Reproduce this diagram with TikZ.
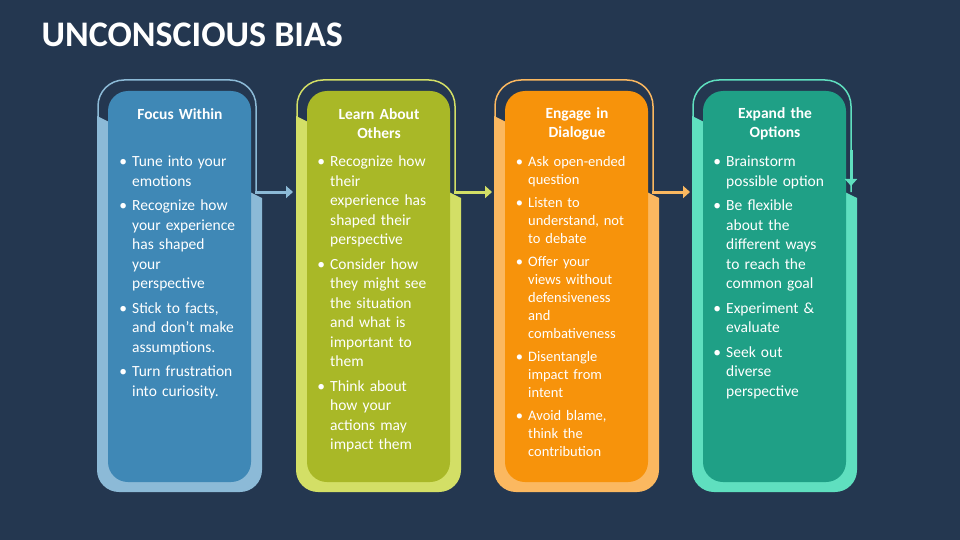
\documentclass[tikz,border=0pt]{standalone}
\usepackage{fontspec}
\setmainfont{Carlito}
\usepackage{enumitem}
\usepackage{tikz}
\usetikzlibrary{arrows.meta}
\definecolor{bg}{HTML}{243750}
\definecolor{blueD}{HTML}{3F88B6}\definecolor{blueL}{HTML}{8CBAD7}
\definecolor{greenD}{HTML}{A9B827}\definecolor{greenL}{HTML}{D3DF66}
\definecolor{orangeD}{HTML}{F7930B}\definecolor{orangeL}{HTML}{FBB860}
\definecolor{tealD}{HTML}{1FA086}\definecolor{tealL}{HTML}{5FDFBF}
\newcommand{\colbody}[1]{%
  \begin{itemize}[leftmargin=14pt,label=\textbullet,itemsep=5pt,parsep=0pt,topsep=0pt,partopsep=0pt]#1\end{itemize}}
\begin{document}
\begin{tikzpicture}[
        x = 1pt, y = -1pt, % pixel grid
        title/.style = {text = white, font = \bfseries\fontsize{15.5}{19}\selectfont, align = center, text width = 130pt},
        body/.style = {text = white, font = \fontsize{15.5}{19.5}\selectfont, text width = 120pt, anchor = north west, inner sep = 0pt},
    ]
    \fill[bg] (0,0) rectangle (960,540);
    \node[anchor = west, text = white, font = \bfseries\fontsize{36}{40}\selectfont] (head) at (38,35) {UNCONSCIOUS BIAS};

    % Draw the columns
    \foreach \x/\dk/\lt in {
        97/blueD/blueL,
        296/greenD/greenL,
        494/orangeD/orangeL,
        692/tealD/tealL} {
        \fill[\lt] (\x,116) -- (\x+165,198) {[rounded corners = 22pt] -- (\x+165,492) -- (\x,492)} -- cycle;
        \draw[\lt, line width = 1.5pt, rounded corners = 26pt] (\x+1,120) -- (\x+1,80) -- (\x+159,80) -- (\x+159,192);
        \fill[\dk, rounded corners = 20pt] (\x+11,91) rectangle (\x+154,482);
    }
    \node[title] (t1) at (180,114) {Focus Within};
    \node[title] (t2) at (379,124) {Learn About\\Others};
    \node[title] (t3) at (577,124) {Engage in\\Dialogue};
    \node[title] (t4) at (775,124) {Expand the\\Options};

    % Draw the connectors
    \foreach \x/\lt in {97/blueL, 296/greenL, 494/orangeL} {
        \draw[\lt, line width = 3pt, -{Triangle[width=12pt,length=7pt]}] (\x+158,192) -- (\x+196,192);
    }
    \draw[tealL, line width = 3pt, -{Triangle[width=12pt,length=7pt]}] (851,150) -- (851,186);

    % Draw the texts
    \node[body] (b1) at (118,147) {\colbody{
        \item Tune into your emotions
        \item Recognize how your experience has shaped your perspective
        \item Stick to facts, and don't make assumptions.
        \item Turn frustration into curiosity.}};
    \node[body, text width = 116pt] (b2) at (316,147) {\colbody{
        \item Recognize how their experience has shaped their perspective
        \item Consider how they might see the situation and what is important to them
        \item Think about how your actions may impact them}};
    \node[body, text width = 112pt, font = \fontsize{14.5}{18}\selectfont] (b3) at (514,148) {\colbody{
        \item Ask open-ended question
        \item Listen to understand, not to debate
        \item Offer your views without defensiveness and combativeness
        \item Disentangle impact from intent
        \item Avoid blame, think the contribution}};
    \node[body, text width = 112pt] (b4) at (712,147) {\colbody{
        \item Brainstorm possible option
        \item Be flexible about the different ways to reach the common goal
        \item Experiment \& evaluate
        \item Seek out diverse perspective}};
\end{tikzpicture}
\end{document}
